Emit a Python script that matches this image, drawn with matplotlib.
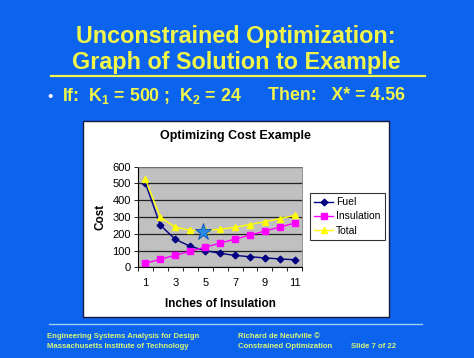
import numpy as np
import matplotlib.pyplot as plt
from matplotlib.patches import Rectangle
from matplotlib.lines import Line2D

plt.rcParams['font.family'] = ['Liberation Sans', 'DejaVu Sans']
plt.rcParams['mathtext.fontset'] = 'custom'
plt.rcParams['mathtext.rm'] = 'Liberation Sans:bold'
plt.rcParams['mathtext.default'] = 'rm'

# values
inches = [1, 2, 3, 4, 5, 6, 7, 8, 9, 10, 11]
fuel = [500, 250, 167, 125, 100, 83, 71, 63, 56, 50, 45]
insulation = [24, 48, 72, 96, 120, 144, 168, 192, 216, 240, 264]
total = [524, 298, 239, 221, 220, 227, 239, 255, 272, 290, 309]
star_x, star_y = 4.87, 210
xtick_labels = ['1', '3', '5', '7', '9', '11']
yticks = [0, 100, 200, 300, 400, 500, 600]

BLUE = '#0b63ee'
YELLOW = '#f2f64a'
FOOT = '#d6f57a'

W, H = 474, 358
fig = plt.figure(figsize=(W / 100, H / 100), dpi=100, facecolor=BLUE)


def fx(px):
    return px / W


def fy(py):
    return 1 - py / H


# title
fig.text(fx(236), fy(37), 'Unconstrained Optimization:', color=YELLOW,
         fontsize=16.8, fontweight='bold', ha='center', va='center')
fig.text(fx(236), fy(62), 'Graph of Solution to Example', color=YELLOW,
         fontsize=16.8, fontweight='bold', ha='center', va='center')
fig.add_artist(Line2D([fx(51), fx(425)], [fy(75.5), fy(75.5)], color=YELLOW, lw=1.6))

# bullet
fig.text(fx(50), fy(97), '\u2022', color='white', fontsize=11, ha='center', va='center')
fig.text(fx(62), fy(96), r'If:  K$_1$ = 500 ;  K$_2$ = 24', color=YELLOW,
         fontsize=12.8, fontweight='bold', ha='left', va='center')
fig.text(fx(268), fy(96), 'Then:   X* = 4.56', color=YELLOW,
         fontsize=12.8, fontweight='bold', ha='left', va='center')

# chart area box
box = Rectangle((fx(83), fy(317)), fx(306), 196 / H, transform=fig.transFigure,
                facecolor='white', edgecolor='#1a1a40', lw=1.0, zorder=-1)
fig.add_artist(box)
fig.text(fx(235.5), fy(136), 'Optimizing Cost Example', fontsize=9, fontweight='bold',
         ha='center', va='center')

ax = fig.add_axes([fx(138), fy(267.3), (302.3 - 138) / W, (267.3 - 166.7) / H])
ax.set_zorder(2)
ax.set_facecolor('#c0c0c0')
ax.set_xlim(0.5, 11.5)
ax.set_ylim(0, 600)
ax.set_yticks(yticks)
ax.grid(axis='y', color='#222222', lw=0.9)
ax.set_axisbelow(True)

ax.plot(inches, fuel, color='#000080', marker='D', ms=3.4, lw=1.0, label='Fuel')
ax.plot(inches, insulation, color='#ff00ff', marker='s', ms=3.8, lw=1.0, label='Insulation')
ax.plot(inches, total, color='#ffff00', marker='^', ms=4.5, lw=1.0, label='Total')
ax.plot([star_x], [star_y], marker='*', ms=12.5, color='#2a8ae8', mec='#0a4fb0', mew=0.6,
        ls='none')

ax.set_xticks(inches[::2])
ax.set_xticklabels(xtick_labels)
ax.set_xticks(np.arange(0.5, 12, 1), minor=True)
ax.tick_params(axis='x', which='major', length=0, labelsize=8, pad=8)
ax.tick_params(axis='x', which='minor', length=3, width=0.6)
ax.tick_params(axis='y', length=3, width=0.6, labelsize=8, pad=2)

for side in ['top', 'right']:
    ax.spines[side].set_color('#808080')
    ax.spines[side].set_linewidth(0.6)
for side in ['left', 'bottom']:
    ax.spines[side].set_color('black')
    ax.spines[side].set_linewidth(0.8)

ax.set_xlabel('Inches of Insulation', fontsize=8.5, fontweight='bold', labelpad=7)
ax.set_ylabel('Cost', fontsize=8.5, fontweight='bold', labelpad=4)

leg = fig.legend(loc='upper left', bbox_to_anchor=(fx(310), fy(193)), fontsize=7.5,
                 frameon=True, fancybox=False, borderaxespad=0, handlelength=1.8,
                 handletextpad=0.3, labelspacing=0.4, borderpad=0.4)
leg.get_frame().set_edgecolor('black')
leg.get_frame().set_linewidth(0.8)
leg.set_zorder(3)

# footer
fig.add_artist(Line2D([fx(49), fx(422)], [fy(324), fy(324)], color='#9fd0f5', lw=1.0))
foot = dict(color=FOOT, fontsize=5.6, fontweight='bold', ha='left', va='center')
fig.text(fx(47), fy(337), 'Engineering Systems Analysis for Design', **foot)
fig.text(fx(47), fy(347), 'Massachusetts Institute of Technology', **foot)
fig.text(fx(238), fy(337), 'Richard de Neufville \u00a9', **foot)
fig.text(fx(238), fy(347), 'Constrained Optimization', **foot)
fig.text(fx(351), fy(347), 'Slide 7 of 22', **foot)

fig.savefig('out.png', dpi=100, facecolor=BLUE)
